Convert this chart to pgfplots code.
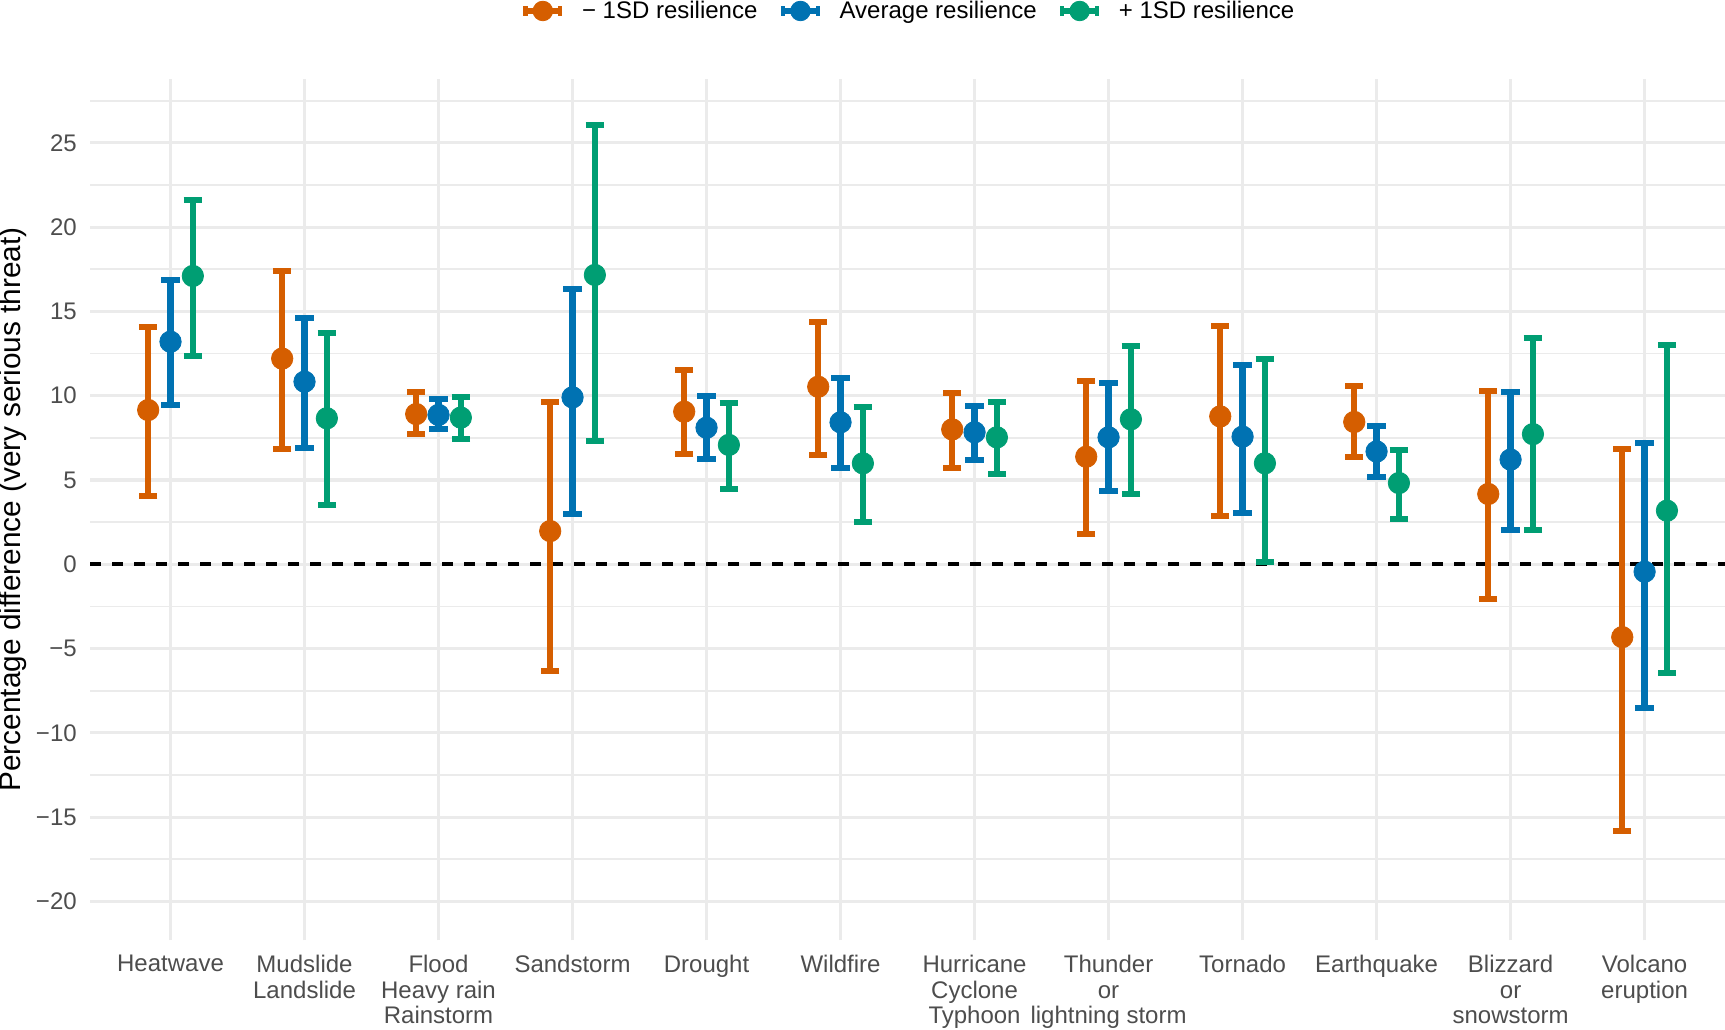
\documentclass[border=0pt]{standalone}
\usepackage{fontspec}
\setmainfont{Liberation Sans}
\usepackage{pgfplots}
\pgfplotsset{compat=1.18}
\usepackage{pgfplotstable}
\definecolor{cOr}{HTML}{D55E00}
\definecolor{cBl}{HTML}{0072B2}
\definecolor{cGr}{HTML}{009E73}
\definecolor{gridc}{HTML}{EBEBEB}
\definecolor{tickc}{HTML}{4D4D4D}

\pgfplotstableread{
i y lo hi
0 9.15 4.07 14.1
1 12.2 6.82 17.4
2 8.91 7.71 10.2
3 1.97 -6.31 9.64
4 9.05 6.52 11.52
5 10.53 6.48 14.35
6 8.0 5.73 10.18
7 6.38 1.8 10.85
8 8.77 2.85 14.14
9 8.44 6.34 10.59
10 4.17 -2.08 10.26
11 -4.32 -15.79 6.84
}\dataOr

\pgfplotstableread{
i y lo hi
0 13.2 9.45 16.86
1 10.83 6.92 14.59
2 8.86 8.0 9.79
3 9.9 2.98 16.3
4 8.1 6.23 10.0
5 8.42 5.69 11.03
6 7.83 6.19 9.41
7 7.53 4.37 10.74
8 7.57 3.07 11.8
9 6.69 5.15 8.18
10 6.21 2.06 10.24
11 -0.44 -8.51 7.17
}\dataBl

\pgfplotstableread{
i y lo hi
0 17.1 12.35 21.6
1 8.66 3.52 13.7
2 8.7 7.43 9.9
3 17.16 7.31 26.06
4 7.08 4.45 9.59
5 5.99 2.49 9.35
6 7.53 5.36 9.63
7 8.6 4.17 12.95
8 5.99 0.11 12.15
9 4.82 2.70 6.78
10 7.72 2.04 13.44
11 3.18 -6.47 12.98
}\dataGr

\pgfplotsset{
  resleg/.style={legend image code/.code={
    \draw[#1, line width=3pt] (0pt,0pt) -- (19pt,0pt);
    \fill[#1] (0pt,-2.2pt) rectangle (1.6pt,2.2pt);
    \fill[#1] (17.4pt,-2.2pt) rectangle (19pt,2.2pt);
    \fill[#1] (9.5pt,0pt) circle (4.9pt);}},
  resplot/.style={only marks, mark=*, mark size=5.35pt,
    mark options={draw=none, fill=#1}, color=#1, resleg=#1,
    error bars/y dir=both, error bars/y explicit,
    error bars/error mark=|,
    error bars/error bar style={line width=3.2pt, draw=#1},
    error bars/error mark options={draw=#1, line width=3pt, mark size=4.6pt}}
}

\begin{document}
\begin{tikzpicture}
\useasboundingbox (0,0) rectangle (862.5pt,514.5pt);
\begin{axis}[
  at={(45.05pt,44.35pt)}, anchor=south west,
  scale only axis, width=817.45pt, height=430.8pt,
  xmin=-0.6, xmax=11.6, ymin=-22.3, ymax=28.8,
  axis line style={draw=none},
  tick style={draw=none},
  major tick length=0pt, minor tick length=0pt,
  xtick={0,1,2,3,4,5,6,7,8,9,10,11},
  xticklabels={Heatwave, {Mudslide\\Landslide}, {Flood\\Heavy rain\\Rainstorm}, Sandstorm, Drought, Wildfire, {Hurricane\\Cyclone\\Typhoon}, {Thunder\\or\\lightning storm}, Tornado, Earthquake, {Blizzard\\or\\snowstorm}, {Volcano\\eruption}},
  ytick={-20,-15,-10,-5,0,5,10,15,20,25},
  yticklabels={−20,−15,−10,−5,0,5,10,15,20,25},
  minor ytick={-17.5,-12.5,-7.5,-2.5,2.5,7.5,12.5,17.5,22.5,27.5},
  xmajorgrids, ymajorgrids, yminorgrids,
  major grid style={gridc, line width=1.55pt},
  minor grid style={gridc, line width=0.95pt},
  x tick label style={font=\fontsize{12}{12.65}\selectfont, text=tickc, align=center, anchor=north, inner sep=0pt, yshift=-7.35pt},
  y tick label style={font=\fontsize{12}{14}\selectfont, text=tickc, anchor=east, inner sep=0pt, xshift=-6.5pt},
  ylabel={Percentage difference (very serious threat)},
  every axis y label/.style={at={(axis description cs:-0.0471,0.5)}, anchor=center, rotate=90, font=\fontsize{14.9}{17}\selectfont},
  legend columns=3,
  legend style={at={(axis description cs:0.5,1.0786)}, anchor=center, draw=none, fill=none,
    font=\fontsize{12}{14}\selectfont, nodes={inner sep=0pt},
    /tikz/every odd column/.append style={column sep=8.6pt},
    /tikz/every even column/.append style={column sep=10.5pt}},
  clip=false,
]
\addplot[forget plot, black, line width=2pt, dash pattern=on 5.5pt off 5.5pt] coordinates {(-0.6,0) (11.6,0)};
\addplot[resplot=cOr] table[x expr=\thisrow{i}-0.1667, y=y, y error plus expr=\thisrow{hi}-\thisrow{y}, y error minus expr=\thisrow{y}-\thisrow{lo}] {\dataOr};
\addlegendentry{− 1SD resilience}
\addplot[resplot=cBl] table[x expr=\thisrow{i}, y=y, y error plus expr=\thisrow{hi}-\thisrow{y}, y error minus expr=\thisrow{y}-\thisrow{lo}] {\dataBl};
\addlegendentry{Average resilience}
\addplot[resplot=cGr] table[x expr=\thisrow{i}+0.1667, y=y, y error plus expr=\thisrow{hi}-\thisrow{y}, y error minus expr=\thisrow{y}-\thisrow{lo}] {\dataGr};
\addlegendentry{+ 1SD resilience}
\end{axis}
\end{tikzpicture}
\end{document}
